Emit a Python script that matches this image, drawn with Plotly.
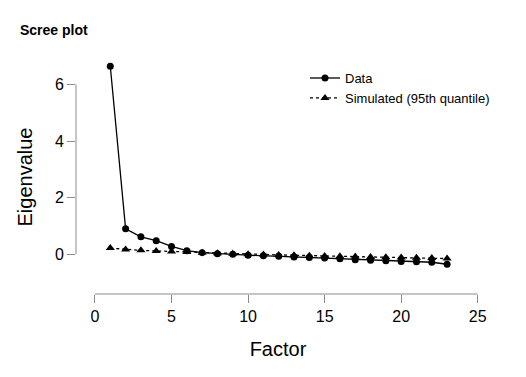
import plotly.graph_objects as go

factors = list(range(1, 24))
data_eig = [6.64, 0.90, 0.62, 0.48, 0.28, 0.13, 0.06, 0.02, 0.00, -0.03, -0.05, -0.07,
            -0.09, -0.11, -0.13, -0.16, -0.19, -0.21, -0.23, -0.25, -0.26, -0.28, -0.35]
sim_eig = [0.22, 0.17, 0.14, 0.12, 0.10, 0.08, 0.06, 0.04, 0.02, 0.00, -0.01, -0.02,
           -0.03, -0.05, -0.06, -0.07, -0.08, -0.09, -0.10, -0.11, -0.12, -0.13, -0.15]
x_ticks = [0, 5, 10, 15, 20, 25]
y_ticks = [0, 2, 4, 6]

FONT = "Arial, Liberation Sans, sans-serif"
AX = "#8c8c8c"

fig = go.Figure()
fig.add_trace(go.Scatter(x=factors, y=data_eig, name="Data", mode="lines+markers",
                         line=dict(color="black", width=1.3),
                         marker=dict(symbol="circle", size=7, color="black")))
fig.add_trace(go.Scatter(x=factors, y=sim_eig, name="Simulated (95th quantile)", mode="lines+markers",
                         line=dict(color="black", width=1.3, dash="3px,3px"),
                         marker=dict(symbol="triangle-up", size=8, color="black")))

# offset axis lines
fig.add_shape(type="line", xref="x", yref="paper", x0=x_ticks[0], x1=x_ticks[-1], y0=0, y1=0,
              line=dict(color=AX, width=1))
fig.add_shape(type="line", xref="paper", yref="y", x0=0, x1=0, y0=y_ticks[0], y1=y_ticks[-1],
              line=dict(color=AX, width=1))

PL, PT, PW, PH = 68, 52, 404, 234.5

fig.update_layout(
    width=526, height=377,
    margin=dict(l=PL, r=526 - PL - PW, t=PT, b=377 - PT - PH, autoexpand=False),
    paper_bgcolor="white", plot_bgcolor="white",
    font=dict(family=FONT, color="black"),
    showlegend=True,
    legend=dict(x=(297 - PL) / PW, y=0.987, xanchor="left", yanchor="top",
                font=dict(size=13, family=FONT), bgcolor="rgba(0,0,0,0)",
                tracegroupgap=0, itemwidth=30),
    xaxis=dict(range=[-1.24, 25.15], tickvals=x_ticks, showgrid=False, zeroline=False,
               showline=False, ticks="outside", ticklen=8, tickcolor=AX, tickwidth=1,
               automargin=False,
               tickfont=dict(size=16, family=FONT),
               title=dict(text="Factor", font=dict(size=20, family=FONT), standoff=17)),
    yaxis=dict(range=[-1.40, 6.86], tickvals=y_ticks, showgrid=False, zeroline=False,
               showline=False, ticks="outside", ticklen=8, tickcolor=AX, tickwidth=1,
               automargin=False,
               tickfont=dict(size=16, family=FONT),
               title=dict(text="Eigenvalue", font=dict(size=20, family=FONT), standoff=16)),
    annotations=[dict(text="<b>Scree plot</b>", xref="paper", yref="paper",
                      x=-(PL - 10) / PW, y=(PT + PH - 22) / PH, xanchor="left", yanchor="middle",
                      showarrow=False, font=dict(size=14, family=FONT))],
)

fig.write_html("out.html")
